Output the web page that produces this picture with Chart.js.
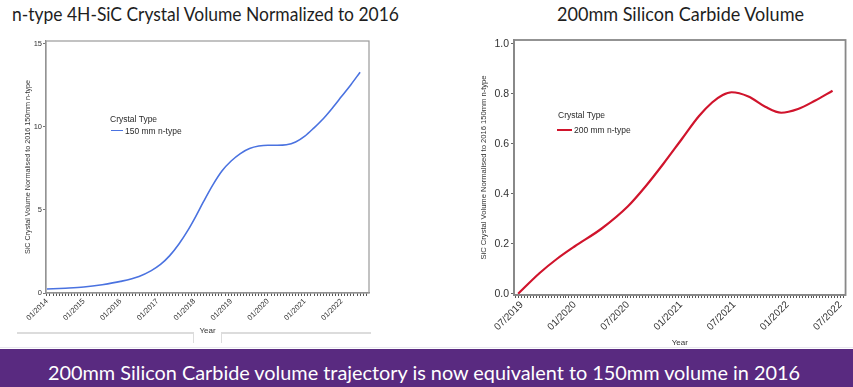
<!DOCTYPE html>
<html><head><meta charset="utf-8">
<script src="https://cdn.jsdelivr.net/npm/chart.js@4/dist/chart.umd.min.js"></script>
<style>
html,body{margin:0;padding:0;background:#fff;width:853px;height:387px;overflow:hidden;position:relative;font-family:"Liberation Sans",Arial,sans-serif}
.t{position:absolute;white-space:nowrap;font-family:Lato,"Open Sans",sans-serif;color:#1e1e1e;transform-origin:0 0;line-height:20px}
.lg{position:absolute;white-space:nowrap;font-family:"Liberation Sans",Arial,sans-serif;font-size:8.5px;line-height:10px;color:#2a2a2a}
.bar{position:absolute;background:#dcdcdc}
canvas{position:absolute;top:0}
</style>
</head><body>
<div class="t" id="t1" data-w="387" style="left:12px;top:3px;font-size:20px">n-type 4H-SiC Crystal Volume Normalized to 2016</div>
<div class="t" id="t2" data-w="247" style="left:557px;top:3px;font-size:20px">200mm Silicon Carbide Volume</div>

<canvas id="c1" width="380" height="345" style="left:0"></canvas>
<canvas id="c2" width="413" height="350" style="left:440px"></canvas>

<div class="lg" style="left:110px;top:114px">Crystal Type</div>
<div style="position:absolute;left:111px;top:130px;width:12px;height:1px;background:#4a72e0"></div>
<div class="lg" style="left:125px;top:126px">150 mm n-type</div>

<div class="lg" style="left:558px;top:110px">Crystal Type</div>
<div style="position:absolute;left:557px;top:129px;width:15px;height:1.5px;background:#d0142c"></div>
<div class="lg" style="left:574px;top:125px">200 mm n-type</div>

<div class="bar" style="left:17px;top:332px;width:176px;height:2px"></div>
<div class="bar" style="left:221px;top:332px;width:150px;height:2px"></div>
<div class="bar" style="left:193px;top:332px;width:1px;height:11px"></div>
<div class="bar" style="left:221px;top:332px;width:1px;height:11px"></div>

<div style="position:absolute;left:0;top:347px;width:853px;height:1px;background:#e8e8ee"></div>
<div style="position:absolute;left:0;top:349px;width:853px;height:38px;background:#592a80"></div>
<div class="t" id="t3" data-w="752" style="left:48px;top:362px;font-size:20px;color:#fff">200mm Silicon Carbide volume trajectory is now equivalent to 150mm volume in 2016</div>

<script>
// ---- data ----
// months since 01/2014
const months150 = [0, 6, 12, 18, 24, 30, 34, 37, 40, 43, 46, 48, 51, 54, 57, 60, 63, 66, 69, 72, 75, 78, 81, 84, 87, 90, 93, 96, 99, 102];
const volume150 = [0.24, 0.29, 0.36, 0.5, 0.7, 1.0, 1.35, 1.72, 2.25, 2.95, 3.8, 4.45, 5.5, 6.5, 7.35, 7.95, 8.4, 8.7, 8.85, 8.9, 8.9, 8.93, 9.1, 9.45, 9.95, 10.5, 11.15, 11.85, 12.55, 13.3];
// months since 01/2019
const months200 = [5.6, 8, 10, 12, 15, 18, 20, 22, 24, 26, 27.5, 28.7, 29.7, 31.6, 33.5, 35.3, 37.2, 39.1, 41.1];
const volume200 = [0, 0.082, 0.14, 0.19, 0.26, 0.35, 0.43, 0.52, 0.615, 0.71, 0.765, 0.795, 0.806, 0.789, 0.748, 0.724, 0.739, 0.772, 0.812];
const series150 = '150 mm n-type';
const series200 = '200 mm n-type';
const yTitle = 'SiC Crystal Volume Normalised to 2016 150mm n-type';
const xTitle = 'Year';
const yTicks150 = [0, 5, 10, 15];
const yTicks200 = [0, 0.2, 0.4, 0.6, 0.8, 1.0];

Chart.defaults.font.family = '"Liberation Sans", Arial, sans-serif';
Chart.defaults.color = '#333';

const boxPlugin = (color, width) => ({
  id: 'box',
  afterDraw(chart) {
    const a = chart.chartArea, ctx = chart.ctx;
    ctx.save();
    ctx.strokeStyle = color; ctx.lineWidth = width;
    ctx.strokeRect(a.left, a.top, a.right - a.left, a.bottom - a.top);
    ctx.restore();
  }
});

const pad2 = n => (n < 10 ? '0' : '') + n;

// ---- chart 1 ----
new Chart(document.getElementById('c1'), {
  type: 'line',
  data: { datasets: [{
    label: series150,
    data: months150.map((m, i) => ({x: m, y: volume150[i]})),
    borderColor: '#4a72e0', borderWidth: 1.6, pointRadius: 0,
    cubicInterpolationMode: 'monotone', fill: false
  }]},
  options: {
    responsive: false, animation: false, devicePixelRatio: 1,
    layout: { padding: { top: 41, right: 11, left: 0, bottom: 0 } },
    plugins: { legend: { display: false }, tooltip: { enabled: false } },
    scales: {
      x: {
        type: 'linear', min: -0.3, max: 104.9,
        afterFit: s => { s.height = 52; },
        grid: { drawOnChartArea: false, drawTicks: true, tickLength: 3, color: '#555' },
        border: { color: '#888', width: 1.2 },
        ticks: { stepSize: 1, includeBounds: false, autoSkip: false, minRotation: 45, maxRotation: 45,
          padding: 1, font: { size: 7.5 }, color: '#333',
          callback: v => (v % 12 === 0) ? '01/' + (2014 + v / 12) : '' },
        title: { display: true, text: xTitle, font: { size: 8 }, color: '#333', padding: { top: 0, bottom: 9 } }
      },
      y: {
        type: 'linear', min: 0, max: 15.18,
        afterFit: s => { s.width = 46; },
        afterBuildTicks: s => { s.ticks = yTicks150.map(v => ({value: v})); },
        grid: { drawOnChartArea: false, drawTicks: true, tickLength: 3, color: '#777' },
        border: { color: '#888', width: 1.2 },
        ticks: { padding: 1, font: { size: 7.5 }, color: '#333' },
        title: { display: true, text: yTitle, font: { size: 7.2 }, color: '#333', padding: { top: 23.7, bottom: 0 } }
      }
    }
  },
  plugins: [boxPlugin('#9a9a9a', 1.2)]
});

// ---- chart 2 ----  (x unit = 1/3 month, for the minor ticks)
new Chart(document.getElementById('c2'), {
  type: 'line',
  data: { datasets: [{
    label: series200,
    data: months200.map((m, i) => ({x: m * 3, y: volume200[i]})),
    borderColor: '#d0142c', borderWidth: 2.2, pointRadius: 0,
    cubicInterpolationMode: 'monotone', fill: false
  }]},
  options: {
    responsive: false, animation: false, devicePixelRatio: 1,
    layout: { padding: { top: 40, right: 5, left: 0, bottom: 0 } },
    plugins: { legend: { display: false }, tooltip: { enabled: false } },
    scales: {
      x: {
        type: 'linear', min: 15.4, max: 127.7,
        afterFit: s => { s.height = 55; },
        grid: { drawOnChartArea: false, drawTicks: true, tickLength: 3, color: '#555' },
        border: { color: '#888', width: 1.8 },
        ticks: { stepSize: 1, includeBounds: false, autoSkip: false, minRotation: 45, maxRotation: 45,
          padding: 1, font: { size: 10 }, color: '#333',
          callback: v => (v % 18 === 0) ? pad2(((v / 3) % 12) + 1) + '/' + (2019 + Math.floor(v / 36)) : '' },
        title: { display: true, text: xTitle, font: { size: 8 }, color: '#333', padding: { top: 0, bottom: 2.2 } }
      },
      y: {
        type: 'linear', min: -0.005, max: 1.015,
        afterFit: s => { s.width = 74; },
        afterBuildTicks: s => { s.ticks = yTicks200.map(v => ({value: v})); },
        grid: { drawOnChartArea: false, drawTicks: true, tickLength: 3, color: '#666' },
        border: { color: '#888', width: 1.8 },
        ticks: { padding: 2, font: { size: 10.5 }, color: '#333', callback: v => Number(v).toFixed(1) },
        title: { display: true, text: yTitle, font: { size: 7.6 }, color: '#333', padding: { top: 39.4, bottom: 0 } }
      }
    }
  },
  plugins: [boxPlugin('#888', 1.8)]
});

// fit heading widths to the reference
document.querySelectorAll('[data-w]').forEach(el => {
  const w = el.getBoundingClientRect().width;
  el.style.transform = 'scaleX(' + (+el.dataset.w / w) + ')';
});
</script>
</body></html>
